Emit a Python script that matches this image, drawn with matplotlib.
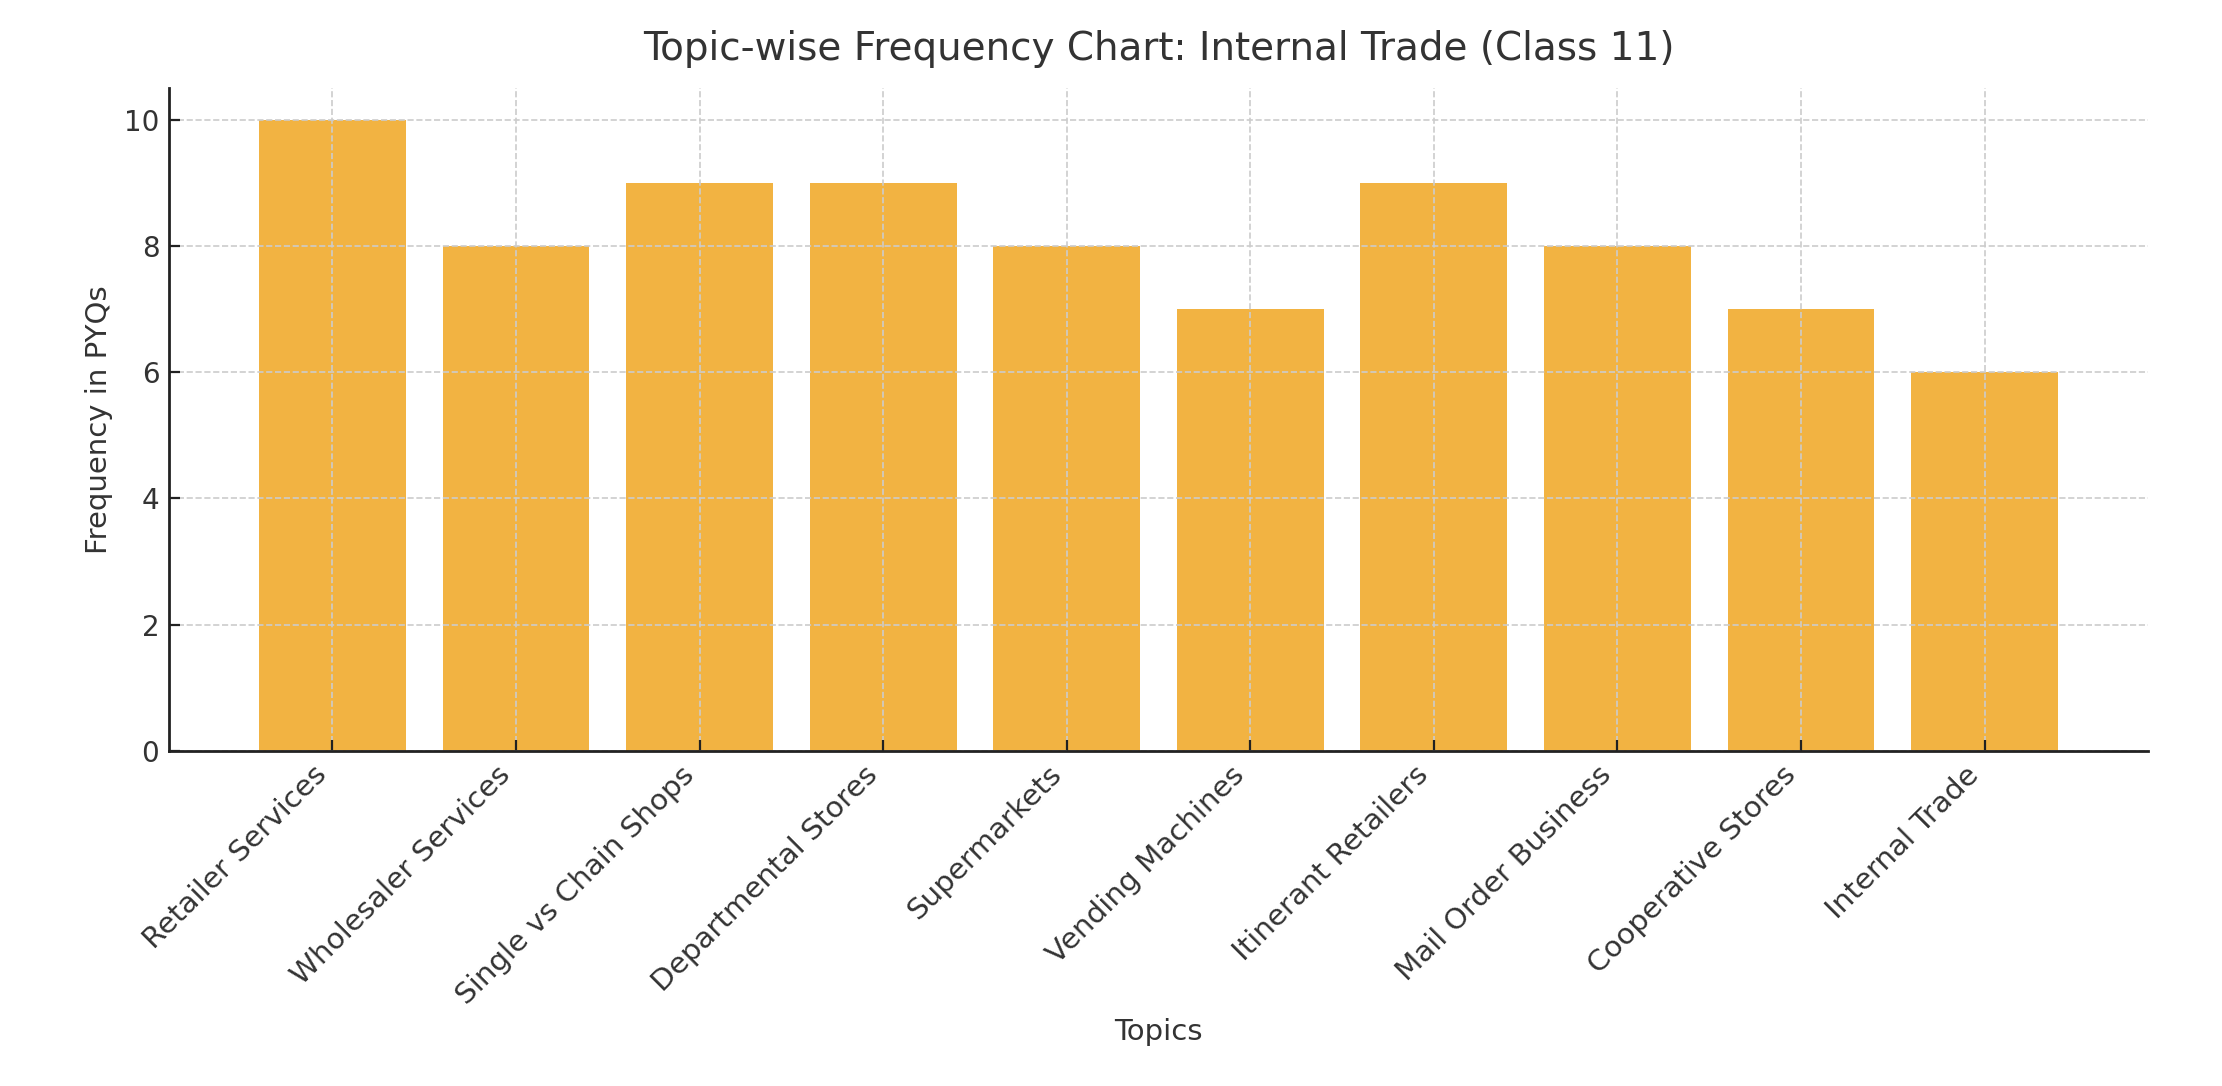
import matplotlib
matplotlib.use("Agg")
import matplotlib.pyplot as plt

topics = [
    "Retailer Services",
    "Wholesaler Services",
    "Single vs Chain Shops",
    "Departmental Stores",
    "Supermarkets",
    "Vending Machines",
    "Itinerant Retailers",
    "Mail Order Business",
    "Cooperative Stores",
    "Internal Trade",
]
frequency = [10, 8, 9, 9, 8, 7, 9, 8, 7, 6]

text_color = "#333333"
bar_color = "#F2B342"

fig = plt.figure(figsize=(11.11, 5.43), dpi=200)
ax = fig.add_axes([0.0761, 0.3085, 0.8906, 0.6105])

ax.bar(topics, frequency, width=0.8, color=bar_color)
# grid sits over the bars but under the spines
ax.set_axisbelow("line")
ax.grid(True, linestyle="--", color="#cccccc", linewidth=0.6)

ax.set_ylim(0, 10.5)
ax.set_yticks([0, 2, 4, 6, 8, 10])

ax.spines["top"].set_visible(False)
ax.spines["right"].set_visible(False)
for side in ("left", "bottom"):
    ax.spines[side].set_color("#222222")
    ax.spines[side].set_linewidth(1.0)

ax.tick_params(direction="in", length=4, labelsize=10, colors="#222222",
               labelcolor=text_color)
ax.tick_params(axis="x", labelsize=10.6)
plt.setp(ax.get_xticklabels(), rotation=45, ha="right")

ax.set_title("Topic-wise Frequency Chart: Internal Trade (Class 11)",
             fontsize=14, color=text_color, pad=10)
ax.set_xlabel("Topics", fontsize=10.5, color=text_color, labelpad=3)
ax.set_ylabel("Frequency in PYQs", fontsize=10.5, color=text_color)

fig.savefig("out.png", dpi=200)
